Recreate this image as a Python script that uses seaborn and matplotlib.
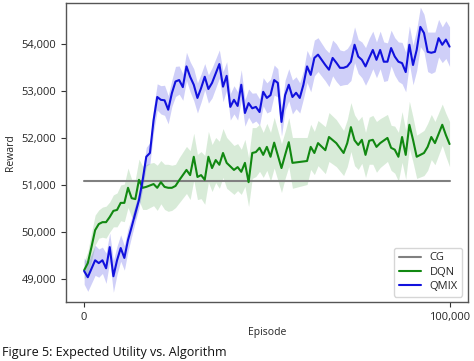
import numpy as np
import pandas as pd
import matplotlib
matplotlib.use("Agg")
import matplotlib.pyplot as plt
from matplotlib.ticker import FuncFormatter
import seaborn as sns

# ---------------- data (episodes in thousands) ----------------
qmix_ep = [0, 1, 3, 4, 5, 6, 7, 8, 9, 10,
           11, 12, 13, 14, 15, 16, 17, 18, 19, 20,
           21, 22, 23, 24, 25, 26, 27, 28, 29, 30,
           31, 32, 33, 34, 35, 37, 38, 39, 40, 41,
           42, 43, 44, 45, 46, 47, 48, 49, 50, 51,
           52, 53, 54, 55, 56, 57, 58, 59, 60, 61,
           62, 63, 64, 66, 67, 68, 69, 70, 71, 72,
           73, 74, 75, 76, 77, 78, 79, 80, 81, 82,
           83, 84, 85, 86, 87, 88, 89, 90, 91, 92,
           93, 94, 95, 96, 97, 98, 99, 100]
qmix_val = [49170, 49040, 49400, 49340, 49400, 49230, 49680, 49060, 49400, 49660,
            49450, 49830, 50110, 50400, 50680, 51100, 51600, 51680, 52380, 52870,
            52810, 52800, 52600, 52950, 53200, 53230, 53080, 53520, 53300, 53130,
            52850, 53060, 53300, 53040, 53170, 53570, 53090, 53320, 52660, 52810,
            52680, 53130, 52530, 52740, 52630, 52660, 52550, 52980, 52850, 52910,
            53230, 53170, 52340, 52910, 53130, 52870, 52960, 52850, 53130, 53520,
            53340, 53700, 53770, 53550, 53450, 53700, 53600, 53490, 53490, 53520,
            53620, 53980, 53730, 53660, 53520, 53700, 53870, 53660, 53870, 53620,
            53620, 53910, 53730, 53620, 53590, 53400, 53980, 53550, 53870, 54360,
            54230, 53830, 53810, 53830, 54120, 53980, 54090, 53940]
qmix_hw = [280, 300, 320, 300, 280, 320, 300, 340, 300, 280,
           260, 240, 200, 180, 170, 180, 200, 220, 260, 280,
           300, 320, 300, 280, 320, 300, 280, 300, 320, 340,
           320, 300, 280, 300, 320, 300, 320, 300, 280, 300,
           300, 320, 280, 300, 320, 300, 280, 300, 320, 340,
           320, 300, 300, 320, 340, 360, 340, 320, 300, 340,
           360, 380, 360, 340, 360, 380, 400, 380, 360, 380,
           400, 380, 360, 380, 400, 420, 400, 380, 400, 420,
           400, 380, 400, 420, 440, 420, 400, 420, 440, 420,
           400, 420, 440, 420, 400, 380, 400, 420]

dqn_ep = [0, 1, 2, 3, 4, 5, 6, 7, 8, 9,
          10, 11, 12, 13, 14, 15, 16, 17, 19, 20,
          21, 22, 23, 24, 25, 26, 28, 29, 30, 31,
          32, 33, 34, 35, 36, 37, 38, 39, 41, 42,
          43, 44, 45, 46, 47, 48, 49, 50, 51, 52,
          54, 55, 56, 57, 59, 61, 62, 63, 64, 66,
          67, 69, 71, 72, 73, 74, 75, 76, 77, 78,
          79, 80, 81, 83, 84, 85, 86, 87, 88, 89,
          90, 91, 93, 94, 95, 96, 98, 99, 100]
dqn_val = [49190, 49340, 49680, 50040, 50170, 50210, 50210, 50320, 50450, 50470,
           50620, 50620, 50940, 50720, 50700, 51110, 50940, 50960, 51020, 50940,
           51060, 50960, 50940, 50940, 50980, 51100, 51320, 51210, 51600, 51170,
           51210, 51110, 51600, 51360, 51530, 51430, 51680, 51470, 51320, 51380,
           51280, 51470, 51060, 51680, 51700, 51790, 51640, 51810, 51600, 51900,
           51360, 51640, 51910, 51470, 51490, 51510, 51810, 51680, 51890, 51740,
           52020, 51890, 51680, 51890, 52230, 51950, 51850, 51960, 51640, 51940,
           51960, 51810, 51890, 52000, 51790, 51750, 51600, 52020, 51640, 52280,
           51960, 51600, 51680, 51810, 52020, 51890, 52280, 52060, 51870]
dqn_hw = [180, 250, 300, 320, 300, 320, 340, 320, 340, 360,
          380, 400, 420, 400, 420, 440, 460, 480, 460, 480,
          460, 480, 500, 480, 460, 480, 500, 520, 500, 480,
          500, 520, 540, 500, 480, 500, 520, 540, 520, 500,
          480, 500, 520, 540, 520, 500, 480, 500, 520, 540,
          520, 500, 520, 540, 520, 500, 480, 460, 480, 500,
          520, 500, 480, 500, 520, 540, 520, 500, 480, 500,
          520, 540, 520, 500, 480, 500, 520, 540, 520, 500,
          480, 460, 480, 500, 480, 460, 440, 460, 480]

cg_ep = [0, 100]
cg_val = [51090, 51090]

x_ticks = [0, 100000]
y_ticks = [49000, 50000, 51000, 52000, 53000, 54000]
caption = "Figure 5: Expected Utility vs. Algorithm"

# ---------------- build frames ----------------
def frame(ep, val, name):
    return pd.DataFrame({"Episode": np.array(ep) * 1000, "Reward": val, "Algo": name})

df = pd.concat([frame(cg_ep, cg_val, "CG"),
                frame(dqn_ep, dqn_val, "DQN"),
                frame(qmix_ep, qmix_val, "QMIX")], ignore_index=True)

palette = {"CG": "#808080", "DQN": "#118811", "QMIX": "#1111dd"}

sns.set_style("ticks")
plt.rcParams["font.family"] = ["Open Sans", "DejaVu Sans"]

fig = plt.figure(figsize=(4.74, 3.61), dpi=100)
ax = fig.add_axes([0.139, 0.163, 0.848, 0.829])

# bands
d_ep = np.array(dqn_ep) * 1000
ax.fill_between(d_ep, np.array(dqn_val) - np.array(dqn_hw), np.array(dqn_val) + np.array(dqn_hw),
                color="#118811", alpha=0.16, linewidth=0)
q_ep = np.array(qmix_ep) * 1000
ax.fill_between(q_ep, np.array(qmix_val) - np.array(qmix_hw), np.array(qmix_val) + np.array(qmix_hw),
                color="#1111dd", alpha=0.2, linewidth=0)

sns.lineplot(data=df, x="Episode", y="Reward", hue="Algo", palette=palette,
             linewidth=1.5, ax=ax, estimator=None, sort=False)

ax.set_xlim(-5000, 105000)
ax.set_ylim(48510, 54870)
ax.set_xticks(x_ticks)
ax.set_yticks(y_ticks)
fmt = FuncFormatter(lambda v, p: f"{int(v):,}")
ax.xaxis.set_major_formatter(fmt)
ax.yaxis.set_major_formatter(fmt)
ax.tick_params(labelsize=8, length=3.5, width=0.8, color="#333333")
ax.set_xlabel("Episode", fontsize=7.5, labelpad=3)
ax.set_ylabel("Reward", fontsize=7.5, labelpad=4)
for s in ax.spines.values():
    s.set_color("#555555")
    s.set_linewidth(1.0)

leg = ax.legend(loc="lower right", fontsize=8, frameon=True, handlelength=2.0,
                borderpad=0.4, labelspacing=0.3, fancybox=True)
leg.get_frame().set_edgecolor("#cccccc")
leg.set_title(None)

fig.text(0.005, 1 - 346 / 361, caption, fontsize=9, va="top", ha="left", color="#111111")

fig.savefig("out.png", dpi=100)
